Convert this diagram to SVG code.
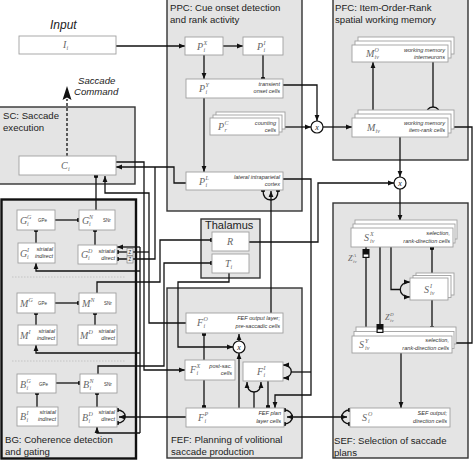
<svg xmlns="http://www.w3.org/2000/svg" width="474" height="460" viewBox="0 0 474 460">
<defs>
<style>
.reg{fill:#e4e4e4;stroke:#333;stroke-width:1.4}
.nd{fill:#fff;stroke:#a0a0a0;stroke-width:0.9}
.w{fill:none;stroke:#111;stroke-width:1.3}
.t{font-family:"Liberation Sans",Arial,sans-serif;font-size:9.6px;fill:#222}
.it{font-family:"Liberation Sans",Arial,sans-serif;font-style:italic;fill:#222}
.m{font-family:"Liberation Serif","Times New Roman",serif;font-style:italic;font-size:10px;fill:#666}
.s{font-family:"Liberation Serif","Times New Roman",serif;font-style:italic;font-size:6px;fill:#666}
.de{font-family:"Liberation Sans",Arial,sans-serif;font-style:italic;font-size:5.6px;fill:#333;text-anchor:end}
.g{font-family:"Liberation Sans",Arial,sans-serif;font-size:4.5px;fill:#333}
.ar{marker-end:url(#ar)}
.dt{marker-end:url(#dt)}
</style>
<marker id="ar" viewBox="0 0 10 10" refX="10" refY="5" markerWidth="6" markerHeight="6" markerUnits="userSpaceOnUse" orient="auto-start-reverse"><path d="M0,1 L10,5 L0,9 z" fill="#111"/></marker>
<marker id="dt" viewBox="0 0 10 10" refX="5" refY="5" markerWidth="4.6" markerHeight="4.6" markerUnits="userSpaceOnUse"><circle cx="5" cy="5" r="5" fill="#111"/></marker>
</defs>
<rect width="474" height="460" fill="#fff"/>

<g id="PPC"><rect class="reg" x="167" y="-2" width="135" height="213"/>
<text class="t" x="170" y="11">PPC: Cue onset detection</text><text class="t" x="170" y="23">and rank activity</text></g>
<g id="PFC"><rect class="reg" x="333" y="-2" width="135" height="162"/>
<text class="t" x="335" y="11">PFC: Item-Order-Rank</text><text class="t" x="335" y="23">spatial working memory</text></g>
<g id="SC"><rect class="reg" x="-1" y="107" width="136" height="77"/>
<text class="t" x="3" y="119">SC: Saccade</text><text class="t" x="3" y="131">execution</text></g>
<g id="BG"><rect x="1.5" y="199.5" width="134.5" height="259" fill="#e4e4e4" stroke="#111" stroke-width="2.4"/>
<line x1="12" y1="277" x2="126" y2="277" stroke="#bbb" stroke-width="0.8" stroke-dasharray="1.5,1.5"/>
<line x1="12" y1="361" x2="126" y2="361" stroke="#bbb" stroke-width="0.8" stroke-dasharray="1.5,1.5"/>
<text class="t" x="5" y="443">BG: Coherence detection</text><text class="t" x="5" y="455">and gating</text></g>
<g id="Thalamus"><rect class="reg" x="201" y="219" width="59" height="59"/>
<text class="t" x="205" y="229" style="font-size:11px">Thalamus</text></g>
<g id="FEF"><rect class="reg" x="167" y="288" width="135" height="170"/>
<text class="t" x="171" y="443">FEF: Planning of volitional</text><text class="t" x="171" y="455">saccade production</text></g>
<g id="SEF"><rect class="reg" x="333" y="203" width="135" height="255"/>
<text class="t" x="334" y="444">SEF: Selection of saccade</text><text class="t" x="334" y="456">plans</text></g>

<text class="it" x="50" y="29" style="font-size:12px">Input</text>
<text class="it" x="78" y="84" style="font-size:9.6px">Saccade</text>
<text class="it" x="74" y="95" style="font-size:9.6px">Command</text>

<g id="connectors">
<path class="w" d="M67,156 V99" stroke-dasharray="3,2"/>
<path d="M67,86 L71.5,100 L67,97.5 L62.5,100 Z" fill="#111"/>
<path class="w ar" d="M116,46 H185"/>
<path class="w ar" d="M223,46 H243"/>
<path class="w ar" d="M204,55 V79"/>
<path class="w dt" d="M263,55 V79"/>
<path class="w ar" d="M283,85 H317 V121"/>
<path class="w ar" d="M285,127 H311"/>
<path class="w ar" d="M323,127 H352"/>
<path class="w ar" d="M204,98 V172"/>
<path class="w ar" d="M186,183 H174 V167 H116"/>
<path class="w dt" d="M155,167 V259 H117"/>
<path class="w ar" d="M373,110 V62"/>
<path class="w" d="M433,62 V107"/>
<path class="w" d="M426,117 Q426,107 433,107 Q440,107 440,117" marker-start="url(#dt)" marker-end="url(#dt)"/>
<path class="w ar" d="M400,137 V177"/>
<path class="w" d="M448,127 H472 V343 H456" marker-start="url(#dt)"/>
<path class="w ar" d="M249,242 H318 V183 H394"/>
<path class="w ar" d="M400,189 V221"/>
<path class="w" d="M391,247 V289.5 H400"/>
<path class="w" d="M410,282 C397,282 397,297 410,297" marker-start="url(#ar)" marker-end="url(#ar)"/>
<path class="w dt" d="M432,273 V248"/>
<path class="w dt" d="M432,300 V328"/>
<path class="w" d="M366,247 V336"/>
<path class="w" d="M380,247 V336"/>
<path class="w ar" d="M401,353 V408"/>
<path class="w" d="M287,417 H347" marker-start="url(#ar)" marker-end="url(#ar)"/>
<path class="w" d="M284,410 C295,410 295,424 284,424" marker-start="url(#dt)" marker-end="url(#dt)"/>
<path class="w" d="M350,410 C339,410 339,424 350,424" marker-start="url(#dt)" marker-end="url(#dt)"/>
<path class="w ar" d="M271,313 V191"/>
<path class="w" d="M263,190 Q263,200 271,200 Q278,200 278,190" marker-start="url(#dt)" marker-end="url(#dt)"/>
<path class="w ar" d="M283,179 H311 V395 H275 V408"/>
<path class="w" d="M311,372 H291"/>
<path class="w" d="M283,365 C294,365 294,378 283,378" marker-start="url(#ar)" marker-end="url(#ar)"/>
<path class="w dt" d="M268,381 V407"/>
<path class="w" d="M254,408 V392"/>
<path class="w" d="M247,382 Q247,392 254,392 Q261,392 261,382" marker-start="url(#ar)" marker-end="url(#ar)"/>
<path class="w ar" d="M239,341 V334"/>
<path class="w ar" d="M239,408 V353"/>
<path class="w dt" d="M204,360 V334"/>
<path class="w dt" d="M204,380 V407"/>
<path class="w ar" d="M229,273 V282 H178 V347 H233"/>
<path class="w ar" d="M116,162 H144 V370 H185"/>
<path class="w ar" d="M186,323 H149 V193 H105 V176"/>
<path class="w dt" d="M149,252 H117"/>
<path class="w ar" d="M186,417 H119"/>
<path class="w" d="M140,247 V433"/>
<path class="w ar" d="M140,247 H117"/>
<path class="w ar" d="M140,271 H36 V263"/>
<path class="w ar" d="M140,353 H36 V345"/>
<path class="w ar" d="M140,433 H97 V427"/>
<path class="w" d="M117,410 C128,410 128,423 117,423" marker-start="url(#dt)" marker-end="url(#dt)"/>
<path class="w dt" d="M97,293 V282 H160 V240 H212"/>
<path class="w dt" d="M98,374 V366 H164 V263 H212"/>
<path class="w dt" d="M96,210 V176"/>
<path class="w dt" d="M55,220 H79"/>
<path class="w dt" d="M36,243 V230"/>
<path class="w dt" d="M95,245 V230"/>
<path class="w dt" d="M55,303 H79"/>
<path class="w dt" d="M36,325 V313"/>
<path class="w dt" d="M95,325 V313"/>
<path class="w dt" d="M56,383 H80"/>
<path class="w dt" d="M37,407 V393"/>
<path class="w dt" d="M97,407 V393"/>
</g>

<g id="mult1"><circle cx="317" cy="127" r="6" fill="#fff" stroke="#111" stroke-width="1.2"/><text class="m" x="317" y="130" text-anchor="middle" style="font-size:8px;fill:#222">x</text></g>
<g id="mult2"><circle cx="400" cy="183" r="6" fill="#fff" stroke="#111" stroke-width="1.2"/><text class="m" x="400" y="186" text-anchor="middle" style="font-size:8px;fill:#222">x</text></g>
<g id="mult3"><circle cx="239" cy="347" r="6" fill="#fff" stroke="#111" stroke-width="1.2"/><text class="m" x="239" y="350" text-anchor="middle" style="font-size:8px;fill:#222">x</text></g>

<g id="I"><rect class="nd" x="19" y="36" width="97" height="18"/><text class="m" x="63" y="48">I</text><text class="s" x="66.5" y="50">i</text></g>
<g id="C"><rect class="nd" x="19" y="156" width="97" height="19"/><text class="m" x="61" y="169">C</text><text class="s" x="68" y="171">i</text></g>

<g id="PX"><rect class="nd" x="185" y="37" width="38" height="18"/><text class="m" x="197" y="50">P</text><text class="s" x="203.5" y="45">X</text><text class="s" x="203.5" y="52">i</text></g>
<g id="PI"><rect class="nd" x="243" y="37" width="40" height="18"/><text class="m" x="257" y="50">P</text><text class="s" x="263.5" y="45">I</text><text class="s" x="263.5" y="52">i</text></g>
<g id="PY"><rect class="nd" x="186" y="79" width="97" height="19"/><text class="m" x="199" y="92">P</text><text class="s" x="205.5" y="87">Y</text><text class="s" x="205.5" y="94">i</text>
<text class="de" x="280" y="86">transient</text><text class="de" x="280" y="93">onset cells</text></g>
<g id="PC"><rect class="nd" x="216" y="112" width="69" height="17"/><rect class="nd" x="213" y="115" width="69" height="17"/><rect class="nd" x="210" y="118" width="69" height="17"/>
<text class="m" x="218" y="130">P</text><text class="s" x="224.5" y="125">C</text><text class="s" x="224.5" y="132">r</text>
<text class="de" x="276" y="125">counting</text><text class="de" x="276" y="132">cells</text></g>
<g id="PL"><rect class="nd" x="186" y="172" width="97" height="18"/><text class="m" x="199" y="185">P</text><text class="s" x="205.5" y="180">L</text><text class="s" x="205.5" y="187">i</text>
<text class="de" x="280" y="179">lateral intraparietal</text><text class="de" x="280" y="186">cortex</text></g>

<g id="MO"><rect class="nd" x="358" y="37" width="96" height="17"/><rect class="nd" x="355" y="41" width="96" height="17"/><rect class="nd" x="352" y="45" width="96" height="17"/>
<text class="m" x="366" y="57">M</text><text class="s" x="374.5" y="52">O</text><text class="s" x="374.5" y="59">iv</text>
<text class="de" x="445" y="52">working memory</text><text class="de" x="445" y="59">interneurons</text></g>
<g id="M"><rect class="nd" x="358" y="110" width="96" height="19"/><rect class="nd" x="355" y="114" width="96" height="19"/><rect class="nd" x="352" y="118" width="96" height="19"/>
<text class="m" x="367" y="131">M</text><text class="s" x="375.5" y="133">iv</text>
<text class="de" x="445" y="125">working memory</text><text class="de" x="445" y="132">item-rank cells</text></g>

<g id="R"><rect class="nd" x="212" y="232" width="37" height="19"/><text class="m" x="227" y="245">R</text></g>
<g id="T"><rect class="nd" x="212" y="254" width="37" height="19"/><text class="m" x="225" y="267">T</text><text class="s" x="230.5" y="269">i</text></g>

<g id="FO"><rect class="nd" x="186" y="313" width="97" height="20"/><text class="m" x="197" y="326">F</text><text class="s" x="203.5" y="321">O</text><text class="s" x="203.5" y="328">i</text>
<text class="de" x="280" y="320">FEF output layer;</text><text class="de" x="280" y="328">pre-saccadic cells</text></g>
<g id="FX"><rect class="nd" x="185" y="360" width="50" height="20"/><text class="m" x="190" y="373">F</text><text class="s" x="196.5" y="368">X</text><text class="s" x="196.5" y="375">i</text>
<text class="de" x="232" y="368">post-sac.</text><text class="de" x="232" y="375">cells</text></g>
<g id="FI"><rect class="nd" x="243" y="362" width="40" height="19"/><text class="m" x="257" y="375">F</text><text class="s" x="263.5" y="370">I</text><text class="s" x="263.5" y="377">i</text></g>
<g id="FP"><rect class="nd" x="186" y="408" width="98" height="19"/><text class="m" x="198" y="421">F</text><text class="s" x="204.5" y="416">P</text><text class="s" x="204.5" y="423">i</text>
<text class="de" x="281" y="415">FEF plan</text><text class="de" x="281" y="423">layer cells</text></g>

<g id="SX"><rect class="nd" x="355" y="220" width="102" height="19"/><rect class="nd" x="353" y="224" width="102" height="19"/><rect class="nd" x="351" y="228" width="102" height="19"/>
<text class="m" x="364" y="241">S</text><text class="s" x="370" y="236">X</text><text class="s" x="370" y="243">iv</text>
<text class="de" x="450" y="235">selection,</text><text class="de" x="450" y="243">rank-direction cells</text></g>
<g id="SI"><rect class="nd" x="416" y="273" width="38" height="22"/><rect class="nd" x="413" y="275.5" width="38" height="22"/><rect class="nd" x="410" y="278" width="38" height="22"/>
<text class="m" x="424" y="293">S</text><text class="s" x="430" y="288">I</text><text class="s" x="430" y="295">iv</text></g>
<g id="SY"><rect class="nd" x="356" y="327" width="100" height="17"/><rect class="nd" x="354" y="331.5" width="100" height="17"/><rect class="nd" x="352" y="336" width="100" height="17"/>
<text class="m" x="359" y="348">S</text><text class="s" x="365" y="343">Y</text><text class="s" x="365" y="350">iv</text>
<text class="de" x="449" y="342">selection,</text><text class="de" x="449" y="350">rank-direction cells</text></g>
<g id="SO"><rect class="nd" x="350" y="408" width="100" height="19"/><text class="m" x="362" y="421">S</text><text class="s" x="368" y="416">O</text><text class="s" x="368" y="423">i</text>
<text class="de" x="447" y="415">SEF output;</text><text class="de" x="447" y="423">direction cells</text></g>
<g id="ZA"><rect x="362.5" y="249" width="7" height="9" fill="#111"/><rect x="363.7" y="254.5" width="4.6" height="2.3" fill="#fff"/>
<text class="m" x="348" y="261" style="font-size:8px">Z</text><text class="s" x="353" y="257" style="font-size:5px">A</text><text class="s" x="353" y="263" style="font-size:5px">iv</text></g>
<g id="ZD"><rect x="376.5" y="324" width="7" height="9" fill="#111"/><rect x="377.7" y="329.5" width="4.6" height="2.3" fill="#fff"/>
<text class="m" x="385" y="320" style="font-size:8px">Z</text><text class="s" x="390" y="316" style="font-size:5px">D</text><text class="s" x="390" y="322" style="font-size:5px">iv</text></g>

<g id="GG"><rect class="nd" x="17" y="210" width="38" height="20"/><text class="m" x="20" y="224">G</text><text class="s" x="27" y="219">G</text><text class="s" x="27" y="226">i</text><text class="g" x="38" y="222">GPe</text></g>
<g id="GN"><rect class="nd" x="79" y="210" width="36" height="20"/><text class="m" x="82" y="224">G</text><text class="s" x="89" y="219">N</text><text class="s" x="89" y="226">i</text><text class="g" x="103" y="222">SNr</text></g>
<g id="GI"><rect class="nd" x="18" y="243" width="37" height="20"/><text class="m" x="20" y="257">G</text><text class="s" x="27" y="252">I</text><text class="s" x="27" y="259">i</text>
<text class="de" x="53" y="251">striatal</text><text class="de" x="53" y="258">indirect</text></g>
<g id="GD"><rect class="nd" x="78" y="245" width="39" height="19"/><text class="m" x="81" y="258">G</text><text class="s" x="88" y="253">D</text><text class="s" x="88" y="260">i</text>
<text class="de" x="115" y="253">striatal</text><text class="de" x="115" y="260">direct</text>
<rect x="127" y="248.5" width="6" height="7" fill="#eee" stroke="#777" stroke-width="0.6"/><text class="g" x="128.6" y="253.6">Z</text>
<rect x="127" y="256" width="6" height="7" fill="#eee" stroke="#777" stroke-width="0.6"/><text class="g" x="128.6" y="261.1">Z</text></g>

<g id="MG"><rect class="nd" x="17" y="293" width="38" height="20"/><text class="m" x="20" y="307">M</text><text class="s" x="28.5" y="302">G</text><text class="g" x="38" y="305">GPe</text></g>
<g id="MN"><rect class="nd" x="79" y="293" width="37" height="20"/><text class="m" x="82" y="307">M</text><text class="s" x="90.5" y="302">N</text><text class="g" x="104" y="305">SNr</text></g>
<g id="MI"><rect class="nd" x="18" y="325" width="39" height="20"/><text class="m" x="20" y="339">M</text><text class="s" x="28.5" y="334">I</text>
<text class="de" x="55" y="333">striatal</text><text class="de" x="55" y="340">indirect</text></g>
<g id="MD"><rect class="nd" x="78" y="325" width="39" height="20"/><text class="m" x="80" y="339">M</text><text class="s" x="88.5" y="334">D</text>
<text class="de" x="115" y="333">striatal</text><text class="de" x="115" y="340">direct</text></g>

<g id="BGb"><rect class="nd" x="17" y="374" width="39" height="19"/><text class="m" x="20" y="388">B</text><text class="s" x="26.5" y="383">G</text><text class="s" x="26.5" y="390">i</text><text class="g" x="39" y="386">GPe</text></g>
<g id="BN"><rect class="nd" x="80" y="374" width="37" height="19"/><text class="m" x="83" y="388">B</text><text class="s" x="89.5" y="383">N</text><text class="s" x="89.5" y="390">i</text><text class="g" x="104" y="386">SNr</text></g>
<g id="BI"><rect class="nd" x="17" y="407" width="41" height="19"/><text class="m" x="20" y="420">B</text><text class="s" x="26.5" y="415">I</text><text class="s" x="26.5" y="422">i</text>
<text class="de" x="56" y="414">striatal</text><text class="de" x="56" y="421">indirect</text></g>
<g id="BD"><rect class="nd" x="79" y="407" width="38" height="20"/><text class="m" x="82" y="421">B</text><text class="s" x="88.5" y="416">D</text><text class="s" x="88.5" y="423">i</text>
<text class="de" x="115" y="414">striatal</text><text class="de" x="115" y="421">direct</text></g>
</svg>
